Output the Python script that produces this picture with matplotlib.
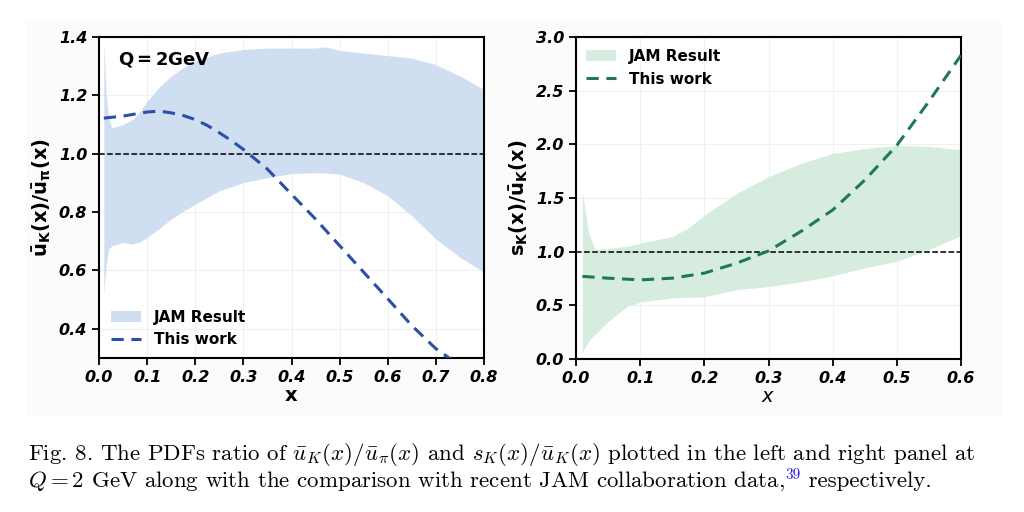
import matplotlib
matplotlib.use("Agg")
import matplotlib.pyplot as plt
import numpy as np
from matplotlib.patches import Rectangle

plt.rcParams['mathtext.fontset'] = 'dejavusans'

# left panel: ubar_K / ubar_pi
x_jam_l = [0.01, 0.015, 0.02, 0.027, 0.05, 0.07, 0.085, 0.10, 0.125, 0.15, 0.175, 0.20,
           0.25, 0.30, 0.35, 0.40, 0.45, 0.47, 0.50, 0.55, 0.60, 0.65, 0.70, 0.75, 0.80]
up_l = [1.38, 1.20, 1.12, 1.089, 1.10, 1.117, 1.145, 1.18, 1.228, 1.266, 1.295, 1.317,
        1.345, 1.357, 1.362, 1.362, 1.362, 1.366, 1.354, 1.345, 1.336, 1.328, 1.305,
        1.266, 1.22]
lo_l = [0.52, 0.62, 0.673, 0.685, 0.696, 0.69, 0.698, 0.713, 0.743, 0.776, 0.803, 0.827,
        0.873, 0.901, 0.918, 0.932, 0.935, 0.934, 0.93, 0.901, 0.856, 0.787, 0.708,
        0.645, 0.594]
x_fit_l = [0.01, 0.05, 0.10, 0.125, 0.15, 0.175, 0.20, 0.225, 0.25, 0.275, 0.30, 0.35,
           0.40, 0.45, 0.50, 0.55, 0.60, 0.65, 0.70, 0.725, 0.75, 0.80]
fit_l = [1.122, 1.129, 1.143, 1.146, 1.14, 1.131, 1.117, 1.097, 1.072, 1.045, 1.015, 0.947,
         0.861, 0.776, 0.685, 0.594, 0.503, 0.411, 0.332, 0.303, 0.27, 0.19]

# right panel: s_K / ubar_K
x_jam_r = [0.01, 0.02, 0.03, 0.05, 0.08, 0.10, 0.15, 0.175, 0.20, 0.25, 0.30, 0.35, 0.40,
           0.45, 0.50, 0.55, 0.60]
up_r = [1.55, 1.17, 1.02, 1.03, 1.05, 1.08, 1.14, 1.22, 1.34, 1.54, 1.70, 1.82, 1.915,
        1.96, 1.99, 1.98, 1.95]
lo_r = [0.07, 0.17, 0.23, 0.35, 0.49, 0.53, 0.57, 0.575, 0.58, 0.645, 0.675, 0.72, 0.775,
        0.85, 0.91, 1.02, 1.15]
x_fit_r = [0.01, 0.05, 0.10, 0.15, 0.20, 0.25, 0.30, 0.35, 0.40, 0.45, 0.50, 0.55, 0.60]
fit_r = [0.77, 0.753, 0.737, 0.753, 0.80, 0.892, 1.007, 1.187, 1.388, 1.667, 1.99, 2.40, 2.83]

blue_band = '#cfdef0'
blue_line = '#2850a8'
green_band = '#d5ecdf'
green_line = '#1f7a52'

fig = plt.figure(figsize=(10.24, 5.12), dpi=100)
fig.patches.append(Rectangle((27/1024, 1 - 415/512), 973/1024, 393/512,
                             transform=fig.transFigure, color='#fbfbfb', zorder=-10))

axL = fig.add_axes([99/1024, 1 - 358/512, 385/1024, 321/512])
axR = fig.add_axes([576/1024, 1 - 359/512, 385/1024, 322/512])

for ax, xj, up, lo, xf, fit, cb, cl in [
        (axL, x_jam_l, up_l, lo_l, x_fit_l, fit_l, blue_band, blue_line),
        (axR, x_jam_r, up_r, lo_r, x_fit_r, fit_r, green_band, green_line)]:
    ax.set_facecolor('white')
    ax.fill_between(xj, lo, up, color=cb, lw=0, label='JAM Result', zorder=1)
    ax.plot(xf, fit, ls=(0, (4, 2.5)), color=cl, lw=2.2, label='This work', zorder=3)
    ax.axhline(1.0, color='black', ls='--', lw=1.1, zorder=2)
    ax.grid(True, color='#f0f0f0', lw=0.8, zorder=0)
    ax.set_axisbelow(True)
    for s in ax.spines.values():
        s.set_linewidth(1.5)
    ax.tick_params(direction='out', width=1.3, length=5)

axL.set_xlim(0, 0.8)
axL.set_ylim(0.3, 1.4)
axL.set_xticks(np.arange(0, 0.81, 0.1))
axL.set_yticks([0.4, 0.6, 0.8, 1.0, 1.2, 1.4])
axR.set_xlim(0, 0.6)
axR.set_ylim(0, 3.0)
axR.set_xticks(np.arange(0, 0.61, 0.1))
axR.set_yticks(np.arange(0, 3.01, 0.5))

for ax in (axL, axR):
    for lab in ax.get_xticklabels() + ax.get_yticklabels():
        lab.set_fontweight('bold')
        lab.set_fontstyle('italic')
        lab.set_fontsize(11.5)

axL.set_xlabel('x', fontsize=14, fontweight='bold', labelpad=1)
axL.set_ylabel(r'$\mathbf{\bar{u}_K(x)/\bar{u}_\pi(x)}$', fontsize=14, labelpad=4)
axR.set_xlabel(r'$x$', fontsize=14, labelpad=1)
axR.set_ylabel(r'$\mathbf{s_K(x)/\bar{u}_K(x)}$', fontsize=14, labelpad=4)

axL.text(0.05, 0.93, r'$\mathbf{Q = 2GeV}$', transform=axL.transAxes, fontsize=13,
         va='center', ha='left')

axL.legend(loc='lower left', frameon=False, prop={'weight': 'bold', 'size': 11},
           bbox_to_anchor=(-0.005, -0.01), handlelength=2.0)
axR.legend(loc='upper left', frameon=False, prop={'weight': 'bold', 'size': 11},
           bbox_to_anchor=(-0.01, 1.005), handlelength=2.0)

# caption
plt.rcParams['mathtext.fontset'] = 'cm'
cap_kw = dict(fontsize=16.5, family='cmr10', ha='left', va='baseline')
line1 = (r'Fig. 8. The PDFs ratio of $\bar{u}_K(x)/\bar{u}_\pi(x)$ and '
         r'$s_K(x)/\bar{u}_K(x)$ plotted in the left and right panel at')
t1 = fig.text(28/1024, 1 - 460/512, line1, **cap_kw)
t2 = fig.text(28/1024, 1 - 487/512,
              r'$Q = 2$ GeV along with the comparison with recent JAM collaboration data,',
              **cap_kw)
fig.canvas.draw()
bb = t2.get_window_extent()
t3 = fig.text(bb.x1 / fig.bbox.width + 0.001, 1 - 479/512, '39', color='#2222ee',
              fontsize=11, family='cmr10', ha='left', va='baseline')
fig.canvas.draw()
bb3 = t3.get_window_extent()
fig.text(bb3.x1 / fig.bbox.width, 1 - 487/512, ' respectively.', **cap_kw)

fig.savefig('out.png', dpi=100)
